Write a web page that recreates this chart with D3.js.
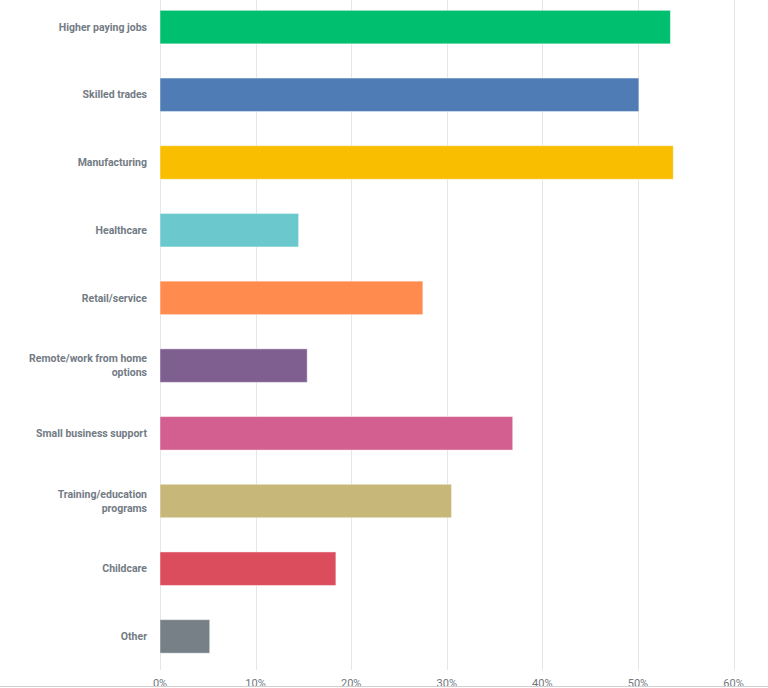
<!DOCTYPE html>
<html>
<head>
<meta charset="utf-8">
<script src="https://cdn.jsdelivr.net/npm/d3@7"></script>
<style>
  html, body { margin: 0; padding: 0; background: #fff; overflow: hidden; }
  svg { display: block; }
</style>
</head>
<body>
<div id="chart"></div>
<script>
// answer choices, top to bottom
const categories = [
    "Higher paying jobs",
    "Skilled trades",
    "Manufacturing",
    "Healthcare",
    "Retail/service",
    "Remote/work from home options",
    "Small business support",
    "Training/education programs",
    "Childcare",
    "Other"
];

// share of respondents (fraction)
const values = [0.534, 0.501, 0.537, 0.145, 0.275, 0.154, 0.369, 0.305, 0.184, 0.052];

const barColors = ["#00bf6f", "#507cb6", "#f9be00", "#6bc8cd", "#ff8b4f",
                   "#7f5f90", "#d25f90", "#c7b879", "#db4d5c", "#768086"];

const tickValues = [0, 0.1, 0.2, 0.3, 0.4, 0.5, 0.6];

const width = 768, height = 688;

const svg = d3.select("#chart")
    .append("svg")
    .attr("width", width)
    .attr("height", height);

const x = d3.scaleLinear()
    .domain([0, 0.6])
    .range([160, 733.5]);

const y = d3.scaleBand()
    .domain(categories)
    .range([-6.6, 670.1])
    .paddingInner(0.505)
    .paddingOuter(0.25);

// --- Gridlines ---
svg.append("g")
    .selectAll("line")
    .data(tickValues)
    .join("line")
    .attr("x1", d => Math.round(x(d)) + 0.5)
    .attr("x2", d => Math.round(x(d)) + 0.5)
    .attr("y1", 0)
    .attr("y2", 670)
    .attr("stroke", "#e6e6e6")
    .attr("stroke-width", 1);

// --- Bars ---
svg.append("g")
    .selectAll("rect")
    .data(categories)
    .join("rect")
    .attr("x", x(0))
    .attr("y", d => y(d))
    .attr("width", (d, i) => x(values[i]) - x(0))
    .attr("height", y.bandwidth())
    .attr("fill", (d, i) => barColors[i])
    .attr("stroke", "rgba(255,255,255,0.45)")
    .attr("stroke-width", 1);

// --- Category labels (two long ones wrap) ---
const labels = svg.append("g")
    .attr("font-family", "Roboto, sans-serif")
    .attr("font-weight", 700)
    .attr("font-size", "10.5px")
    .attr("fill", "#737b85")
    .attr("text-anchor", "end");

categories.forEach(cat => {
    let lines = [cat];
    if (cat === "Remote/work from home options") lines = ["Remote/work from home", "options"];
    if (cat === "Training/education programs") lines = ["Training/education", "programs"];
    const cy = y(cat) + y.bandwidth() / 2;
    const t = labels.append("text")
        .attr("y", cy - (lines.length - 1) * 7);
    lines.forEach((ln, j) => {
        t.append("tspan")
            .attr("x", 147)
            .attr("dy", j === 0 ? "0.35em" : "14px")
            .text(ln);
    });
});

// --- Bottom axis (labels sit partly below the window edge, as in the source) ---
svg.append("g")
    .attr("font-family", "Roboto, sans-serif")
    .attr("font-size", "11px")
    .attr("fill", "#6f7780")
    .attr("text-anchor", "middle")
    .selectAll("text")
    .data(tickValues)
    .join("text")
    .attr("x", d => x(d))
    .attr("y", 687)
    .text(d => d3.format(".0%")(d));

svg.append("line")
    .attr("x1", 0)
    .attr("x2", width)
    .attr("y1", 686.5)
    .attr("y2", 686.5)
    .attr("stroke", "#d0d0d0")
    .attr("stroke-width", 1);
</script>
</body>
</html>
